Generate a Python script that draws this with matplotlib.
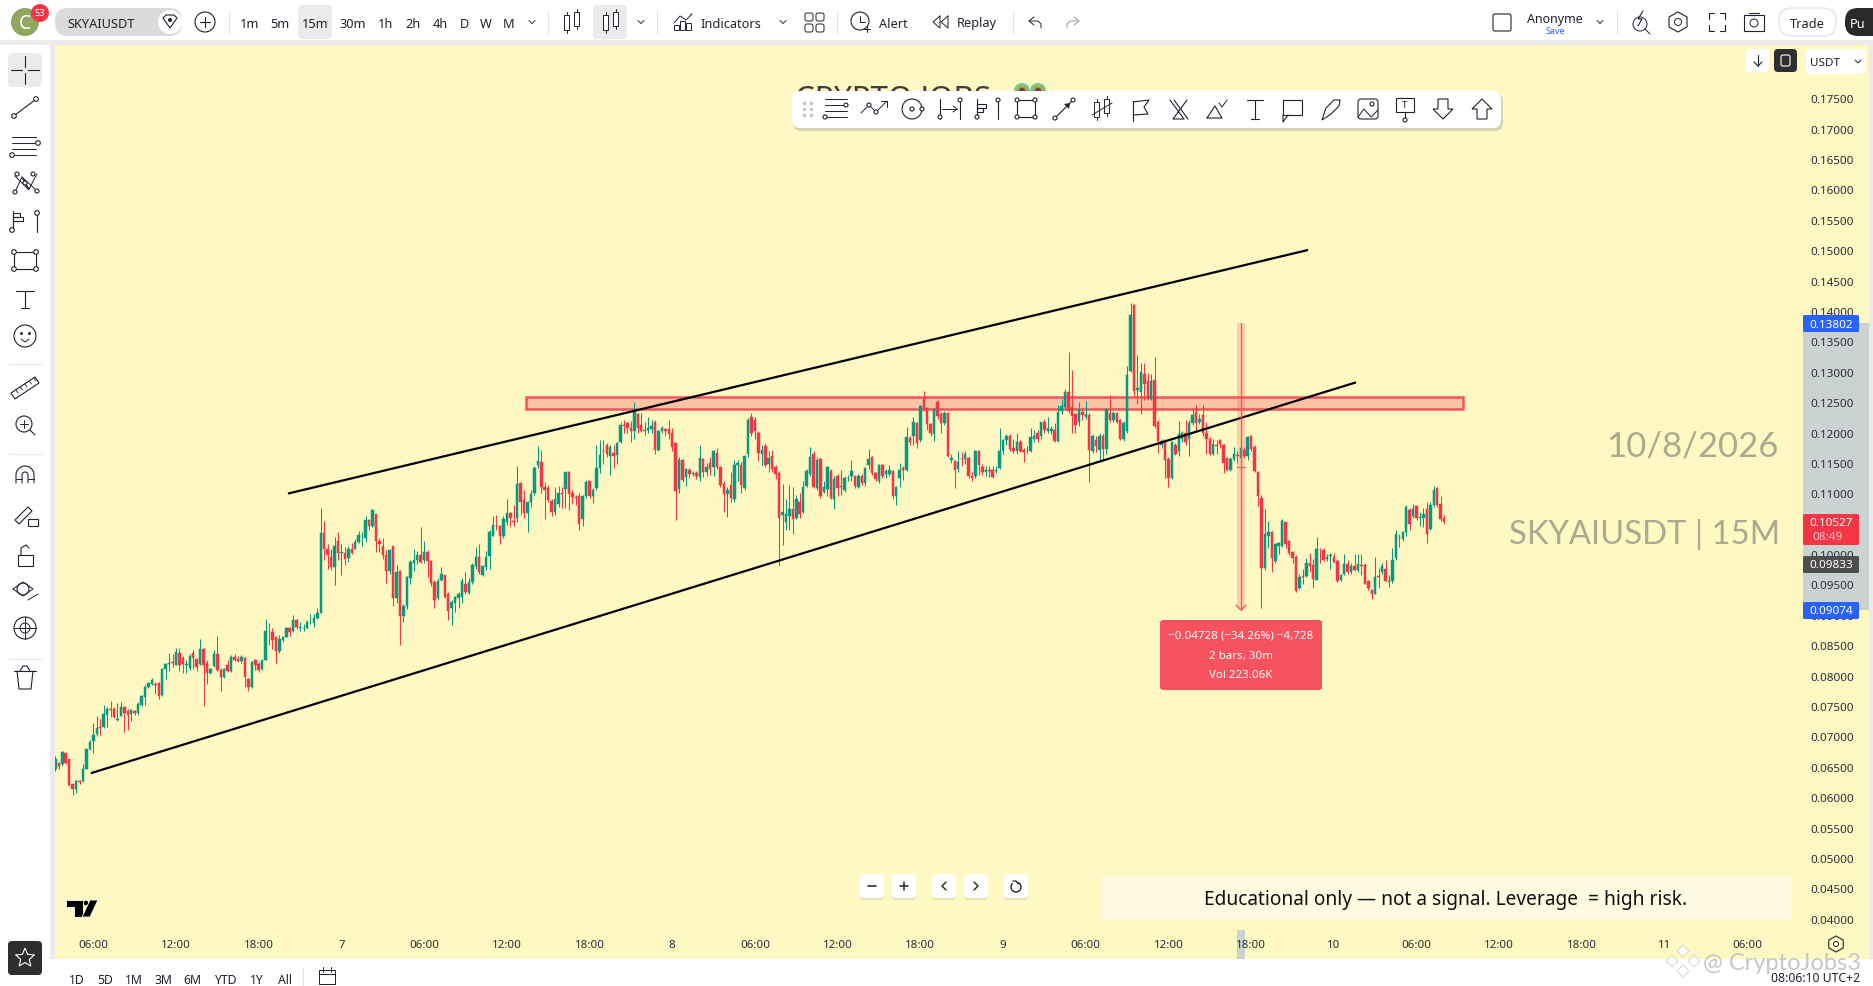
import numpy as np
import matplotlib
matplotlib.use("Agg")
import matplotlib.pyplot as plt
from matplotlib.patches import Circle, FancyBboxPatch, Rectangle, Polygon

plt.rcParams['font.family'] = ['Noto Sans', 'DejaVu Sans']

W, H = 1874, 987

# velas de 15m, precios en diezmilesimas de USDT (662 = 0.0662)
opens = [
    647,656,654,672,663,621,613,626,626,647, 679,692,704,716,715,735,745,745,727,733,
    748,742,737,741,738,752,764,781,786,786, 788,768,811,819,823,817,837,829,818,813,
    838,827,819,843,820,805,816,835,810,798, 817,808,830,828,824,829,794,782,825,819,
    811,826,872,872,863,841,858,864,878,873, 891,879,878,878,886,887,895,903,1035,1008,
    995,979,1021,1002,1001,993,1009,1009,1020,1029, 1027,1056,1046,1066,1021,1014,999,972,1013,928,
    972,898,915,960,986,990,999,990,1004,989, 954,928,958,965,934,911,920,927,929,951,
    936,954,981,996,966,979,997,1029,1047,1046, 1029,1053,1067,1055,1059,1117,1089,1068,1085,1100,
    1147,1151,1111,1108,1087,1070,1082,1101,1107,1135, 1100,1094,1095,1058,1095,1120,1095,1109,1141,1170,
    1179,1162,1166,1163,1184,1212,1215,1207,1202,1230, 1212,1203,1205,1206,1218,1172,1202,1206,1206,1199,
    1183,1107,1154,1127,1139,1132,1133,1127,1156,1135, 1150,1144,1167,1143,1115,1099,1113,1090,1147,1147,
    1109,1165,1226,1220,1199,1164,1178,1149,1162,1143, 1133,1065,1053,1063,1074,1059,1085,1070,1112,1132,
    1164,1108,1156,1102,1107,1137,1091,1129,1112,1106, 1125,1129,1128,1110,1129,1117,1146,1160,1133,1121,
    1147,1132,1132,1137,1096,1125,1142,1139,1191,1195, 1215,1188,1255,1240,1214,1197,1250,1230,1216,1232,
    1154,1153,1140,1157,1156,1158,1129,1128,1169,1144, 1135,1138,1138,1137,1142,1170,1187,1194,1175,1169,
    1184,1172,1171,1170,1189,1200,1195,1218,1203,1203, 1205,1186,1236,1242,1266,1242,1230,1217,1233,1226,
    1229,1170,1188,1172,1194,1173,1232,1220,1232,1220, 1189,1202,1302,1410,1270,1266,1296,1285,1255,1286,
    1217,1180,1188,1157,1125,1180,1170,1190,1200,1189, 1216,1233,1218,1229,1200,1189,1165,1179,1187,1179,
    1158,1139,1156,1163,1158,1172,1162,1195,1176,1135, 1093,977,1029,1036,989,1014,1014,1052,1021,1003,
    995,944,964,964,986,982,958,1007,1006,992, 997,996,989,958,968,984,970,980,973,982,
    982,955,941,935,964,970,975,954,955,993, 1027,1024,1037,1073,1062,1079,1059,1060,1074,1042,
    1080,1108,1082,1060,
]
closes = [
    662,652,674,656,620,613,626,625,647,679, 691,703,713,713,737,745,744,732,729,748,
    738,735,743,739,754,766,781,788,793,785, 767,811,819,820,821,839,817,819,819,833,
    829,815,843,817,804,811,835,810,798,811, 808,831,826,824,831,797,782,823,817,810,
    826,873,871,858,841,861,864,878,872,891, 880,880,879,888,887,895,903,1035,1009,998,
    979,1014,1001,1003,992,1009,1002,1020,1031,1030, 1056,1046,1073,1021,1017,998,972,1007,928,970,
    898,915,962,987,991,999,987,1004,988,952, 924,955,968,929,907,921,929,935,955,938,
    954,982,995,970,980,995,1036,1048,1046,1030, 1058,1068,1059,1052,1115,1085,1067,1086,1099,1142,
    1153,1111,1105,1089,1069,1091,1100,1099,1135,1099, 1094,1093,1049,1096,1119,1095,1105,1141,1163,1169,
    1164,1176,1161,1182,1212,1211,1208,1202,1237,1208, 1202,1204,1207,1211,1172,1203,1207,1203,1197,1177,
    1104,1155,1122,1140,1132,1134,1129,1158,1135,1143, 1140,1169,1143,1113,1099,1105,1092,1147,1150,1113,
    1162,1221,1200,1203,1166,1171,1146,1158,1140,1132, 1060,1069,1066,1074,1058,1090,1066,1110,1137,1160,
    1110,1155,1096,1110,1143,1093,1124,1109,1110,1125, 1126,1137,1112,1129,1117,1142,1157,1133,1124,1147,
    1129,1137,1139,1095,1110,1139,1138,1192,1184,1217, 1182,1243,1238,1214,1199,1238,1227,1216,1232,1162,
    1158,1138,1151,1156,1165,1129,1125,1169,1146,1135, 1139,1137,1127,1138,1169,1188,1195,1173,1169,1185,
    1170,1168,1172,1192,1195,1190,1217,1204,1207,1206, 1186,1233,1244,1266,1236,1228,1213,1239,1229,1230,
    1172,1194,1178,1194,1173,1238,1220,1232,1217,1189, 1216,1295,1393,1269,1273,1299,1280,1255,1285,1210,
    1186,1186,1155,1126,1184,1165,1198,1199,1185,1216, 1229,1216,1222,1200,1189,1165,1181,1178,1181,1150,
    1139,1156,1165,1162,1175,1162,1192,1173,1136,1096, 977,1033,1037,993,1017,1018,1055,1017,1002,994,
    940,963,963,986,981,959,1008,1006,991,996, 998,987,956,966,984,970,980,974,984,980,
    951,944,935,962,963,981,956,955,990,1033, 1026,1036,1078,1050,1074,1059,1061,1066,1033,1081,
    1105,1080,1057,1052,
]
highs = [
    668,658,676,673,663,622,628,628,655,679, 694,722,733,729,751,748,758,749,755,756,
    750,745,745,743,757,768,784,790,796,790, 789,812,821,837,835,846,845,832,826,835,
    842,829,860,846,825,813,842,866,812,813, 825,834,836,832,834,831,796,824,827,822,
    826,893,887,879,863,867,866,880,880,899, 893,888,885,891,902,901,911,1076,1054,1017,
    1008,1028,1036,1017,1012,1013,1018,1025,1038,1037, 1063,1057,1074,1066,1026,1027,1006,1009,1014,982,
    973,918,964,990,1008,1005,1045,1021,1006,991, 958,960,978,966,937,925,931,938,960,970,
    960,985,1011,1017,982,1005,1040,1062,1065,1048, 1063,1090,1069,1081,1145,1119,1105,1088,1106,1145,
    1178,1171,1118,1114,1090,1111,1112,1111,1135,1136, 1106,1097,1100,1097,1122,1121,1108,1180,1188,1188,
    1183,1180,1180,1184,1218,1220,1217,1219,1250,1232, 1232,1218,1226,1220,1220,1205,1210,1208,1220,1207,
    1184,1160,1156,1142,1141,1136,1136,1180,1158,1150, 1160,1172,1175,1145,1120,1110,1135,1155,1155,1151,
    1163,1224,1232,1225,1203,1180,1183,1170,1171,1147, 1136,1115,1090,1114,1110,1098,1100,1120,1140,1176,
    1169,1160,1158,1120,1145,1140,1128,1132,1138,1128, 1130,1155,1130,1132,1132,1144,1173,1162,1135,1149,
    1149,1140,1146,1139,1112,1150,1145,1209,1195,1225, 1218,1245,1268,1242,1216,1240,1254,1234,1236,1234,
    1165,1155,1170,1168,1170,1161,1135,1171,1171,1148, 1145,1145,1145,1145,1207,1190,1197,1197,1190,1200,
    1188,1175,1178,1207,1205,1205,1218,1222,1226,1210, 1215,1245,1255,1271,1332,1303,1232,1250,1240,1252,
    1232,1197,1195,1199,1197,1240,1262,1235,1234,1223, 1219,1309,1413,1412,1327,1315,1315,1298,1296,1324,
    1220,1190,1190,1160,1186,1182,1219,1203,1220,1220, 1240,1246,1230,1245,1217,1192,1190,1188,1189,1181,
    1160,1160,1176,1170,1177,1177,1194,1196,1179,1137, 1098,1075,1055,1038,1019,1020,1057,1053,1023,1005,
    998,967,975,993,1001,992,1028,1010,1010,1000, 1002,1002,991,968,1000,990,985,1000,1000,1000,
    985,957,943,995,977,985,991,965,1010,1040, 1033,1038,1081,1076,1083,1081,1070,1076,1085,1085,
    1112,1111,1095,1064,
]
lows = [
    643,647,651,654,618,604,607,622,625,647, 677,673,700,702,714,716,732,730,725,733,
    707,711,725,735,736,750,752,779,784,770, 762,767,794,807,815,817,808,805,804,809,
    811,808,817,750,786,803,814,808,774,796, 806,806,824,822,820,782,774,780,810,806,
    809,826,850,843,820,838,856,863,865,871, 876,873,873,876,885,880,893,903,990,976,
    974,949,990,966,982,987,1000,1008,1018,1013, 1020,1040,1045,1003,1004,992,953,968,914,920,
    851,889,910,950,972,984,985,985,963,947, 912,925,955,927,891,884,905,912,920,934,
    934,950,975,967,964,973,976,1029,1040,1017, 1026,1048,1045,1047,1052,1065,1060,1037,1077,1098,
    1142,1100,1058,1085,1062,1065,1078,1076,1076,1073, 1082,1080,1039,1046,1093,1093,1084,1105,1134,1149,
    1160,1130,1142,1148,1183,1200,1200,1185,1190,1200, 1201,1196,1200,1200,1165,1170,1200,1195,1190,1170,
    1056,1100,1119,1112,1125,1129,1123,1120,1127,1128, 1130,1128,1140,1111,1069,1061,1086,1086,1120,1100,
    1105,1160,1195,1190,1153,1145,1143,1135,1135,1123, 980,1015,1040,1040,1033,1057,1060,1068,1110,1128,
    1108,1105,1092,1100,1095,1090,1075,1095,1098,1102, 1120,1120,1108,1108,1114,1112,1140,1130,1120,1117,
    1125,1125,1128,1090,1081,1110,1122,1137,1180,1180, 1175,1185,1235,1205,1195,1186,1222,1200,1212,1160,
    1150,1108,1135,1145,1148,1125,1120,1126,1130,1130, 1128,1127,1125,1133,1140,1165,1180,1170,1167,1165,
    1168,1152,1166,1168,1185,1185,1190,1200,1200,1198, 1184,1184,1231,1240,1232,1200,1199,1210,1220,1222,
    1118,1167,1168,1155,1155,1165,1217,1218,1215,1187, 1186,1199,1299,1260,1247,1230,1253,1253,1253,1208,
    1166,1175,1125,1111,1123,1163,1162,1185,1180,1162, 1212,1203,1214,1195,1165,1163,1163,1165,1175,1133,
    1137,1136,1153,1150,1155,1158,1155,1170,1135,1079, 912,974,1010,971,986,1000,1012,1010,998,985,
    938,942,950,962,970,945,957,985,988,988, 976,985,954,956,966,968,968,972,970,965,
    950,941,926,934,945,968,955,946,953,990, 1012,1022,1030,1040,1060,1056,1046,1045,1019,1040,
    1078,1078,1054,1050,
]

price_ticks = [0.04 + 0.005 * k for k in range(28)]
time_labels = ['06:00', '12:00', '18:00', '7', '06:00', '12:00', '18:00', '8', '06:00', '12:00', '18:00',
               '9', '06:00', '12:00', '18:00', '10', '06:00', '12:00', '18:00', '11', '06:00']
first_tick_bar = 11
bars_per_tick = 24

# lineas dibujadas: (barra, precio)
upper_line = ([67.8, 363.2], [0.1100, 0.1500])
lower_line = ([10.6, 377.1], [0.0640, 0.1282])
zone_bars = (136.7, 408.4)
zone_prices = (0.12387, 0.1259)
measure_bars = (342.9, 345.2)
measure_prices = (0.09074, 0.13802)
measure_mid = 0.1143
price_badges = [('0.13802', 324.5, '#2962FF'), ('0.09833', 565.5, '#4E4E4E'), ('0.09074', 611.5, '#2962FF')]

GREEN = '#089981'
RED = '#F23645'
YELLOW = '#FEF8C3'
MEASURE = '#F7525F'
SEL = '#CBD3D2'
INK = '#1E222D'

fig = plt.figure(figsize=(W / 100, H / 100), dpi=100, facecolor='#EBEBEB')

# capa de fondo con la interfaz
ui = fig.add_axes([0, 0, 1, 1], zorder=0)
ui.set_xlim(0, W)
ui.set_ylim(H, 0)
ui.axis('off')

# panel del grafico
ax = fig.add_axes([55 / W, 1 - 960 / H, (1869 - 55) / W, (960 - 46) / H], zorder=1, facecolor=YELLOW)
ax.set_xlim((55 - 55.4) / 3.446, (1869 - 55.4) / 3.446)
ax.set_ylim(0.14 - (960 - 312) / 6077, 0.14 + (312 - 46) / 6077)
ax.set_axisbelow(False)
for s in ax.spines.values():
    s.set_visible(False)

# capa superior
top = fig.add_axes([0, 0, 1, 1], zorder=2)
top.set_xlim(0, W)
top.set_ylim(H, 0)
top.axis('off')
top.patch.set_alpha(0)


def rect(a, x0, y0, x1, y1, color, z=1, **kw):
    a.add_patch(Rectangle((x0, y0), x1 - x0, y1 - y0, facecolor=color, edgecolor='none', zorder=z, **kw))


def rbox(a, x0, y0, x1, y1, color, r=4, z=2, ec='none', lw=0):
    a.add_patch(FancyBboxPatch((x0 + r, y0 + r), x1 - x0 - 2 * r, y1 - y0 - 2 * r,
                               boxstyle='round,pad=%g,rounding_size=%g' % (r, r),
                               facecolor=color, edgecolor=ec, linewidth=lw, zorder=z))


def ln(a, xs, ys, color=INK, lw=0.8, z=6):
    a.plot(xs, ys, color=color, lw=lw, zorder=z, solid_capstyle='round', solid_joinstyle='round')


def ring(a, x, y, r, color=INK, lw=0.8, z=6, fc='white'):
    a.add_patch(Circle((x, y), r, facecolor=fc, edgecolor=color, linewidth=lw, zorder=z))


def box(a, x0, y0, x1, y1, color=INK, lw=0.8, z=6, fc='none'):
    a.add_patch(Rectangle((x0, y0), x1 - x0, y1 - y0, facecolor=fc, edgecolor=color, linewidth=lw, zorder=z))


def label(a, x, y, s, size=9.2, color=INK, ha='center', weight='normal', z=7):
    a.text(x, y + 1, s, fontsize=size, color=color, ha=ha, va='center', fontweight=weight, zorder=z)


def chevron(a, x, y, color='#444444'):
    ln(a, [x - 3, x, x + 3], [y - 1.5, y + 1.5, y - 1.5], color=color, lw=0.8)


def candle_icon(a, x, y):
    for dx, h0, h1 in ((-5, -7, 8), (5, -10, 4)):
        ln(a, [x + dx, x + dx], [y + h0 - 3, y + h1 + 3], lw=0.7)
        box(a, x + dx - 2.5, y + h0, x + dx + 2.5, y + h1, fc='white', lw=0.7)


# barras blancas
rect(ui, 0, 0, W, 41, 'white')
rect(ui, 0, 46, 50, H, 'white')
rect(ui, 50, 960, W, H, 'white')

# ---- barra superior
ui.add_patch(Circle((25, 23), 14, facecolor='#8FA85F', zorder=3))
label(ui, 25, 23, 'C', size=14, color='white', weight='bold')
ui.add_patch(Circle((40, 14), 9, facecolor='#F23645', zorder=6))
label(ui, 40, 13, '53', size=6.5, color='white', weight='bold')
rbox(ui, 55, 9, 182, 37, '#DBDBDB', r=13)
label(ui, 67, 23, 'SKYAIUSDT', size=9.2, ha='left', weight='bold')
ui.add_patch(Circle((170, 23), 12, facecolor='white', zorder=4))
ui.add_patch(Polygon([[163, 19], [166, 16], [174, 16], [177, 19], [170, 29]], closed=True, facecolor='white', edgecolor=INK, lw=0.8, zorder=6))
ui.add_patch(Circle((170, 21), 2, facecolor=INK, zorder=7))
ring(ui, 205, 23, 10)
ln(ui, [200, 210], [23, 23])
ln(ui, [205, 205], [18, 28])
ln(ui, [229, 229], [12, 34], color='#E0E0E0')
rbox(ui, 298, 6, 332, 40, '#EBEBEB', r=5)
for xp, s in zip([250, 280, 315, 353, 386, 413, 440, 464, 486, 509],
                 ['1m', '5m', '15m', '30m', '1h', '2h', '4h', 'D', 'W', 'M']):
    label(ui, xp, 23, s)
chevron(ui, 532, 23)
ln(ui, [548, 548], [12, 34], color='#E0E0E0')
candle_icon(ui, 572, 23)
rbox(ui, 593, 6, 627, 40, '#EBEBEB', r=5)
candle_icon(ui, 611, 23)
chevron(ui, 641, 23)
ln(ui, [657, 657], [12, 34], color='#E0E0E0')
ln(ui, [674, 680, 686, 692, 691], [24, 17, 21, 15, 15], lw=0.7)
for xb, hb in ((674, 5), (680, 9), (686, 7)):
    box(ui, xb, 31 - hb, xb + 5, 31, lw=0.7)
label(ui, 700, 23, 'Indicators', ha='left')
chevron(ui, 783, 23)
for gx in (809, 820):
    for gy in (18, 29):
        rbox(ui, gx - 4, gy - 4, gx + 4, gy + 4, 'white', r=2, ec=INK, lw=0.7, z=6)
ln(ui, [837, 837], [12, 34], color='#E0E0E0')
ring(ui, 860, 22, 9)
ln(ui, [860, 860, 865], [17, 23, 23], lw=0.7)
ln(ui, [864, 870], [30, 30], lw=0.7)
ln(ui, [867, 867], [27, 33], lw=0.7)
label(ui, 879, 23, 'Alert', ha='left')
ln(ui, [940, 933, 940, 940], [17, 23, 29, 17], lw=0.7)
ln(ui, [948, 941, 948, 948], [17, 23, 29, 17], lw=0.7)
label(ui, 957, 23, 'Replay', ha='left')
ln(ui, [1013, 1013], [12, 34], color='#E0E0E0')
ln(ui, [1034, 1029, 1034], [18, 22, 26], lw=0.7)
ln(ui, [1029, 1038, 1041, 1041], [22, 22, 25, 29], lw=0.7)
ln(ui, [1074, 1079, 1074], [18, 22, 26], color='#9A9A9A', lw=0.7)
ln(ui, [1079, 1070, 1067, 1067], [22, 22, 25, 29], color='#9A9A9A', lw=0.7)
rbox(ui, 1493, 15, 1511, 32, 'white', r=2, ec=INK, lw=0.8, z=6)
label(ui, 1555, 18, 'Anonyme', size=9)
label(ui, 1555, 30, 'Save', size=6.5, color='#2962FF')
chevron(ui, 1600, 23)
ln(ui, [1617, 1617], [12, 34], color='#E0E0E0')
ring(ui, 1640, 25, 7, lw=0.7)
ln(ui, [1645, 1650], [30, 35], lw=0.7)
ln(ui, [1643, 1638, 1642, 1638], [12, 20, 20, 27], lw=0.8)
hex_x = np.array([0, 9, 9, 0, -9, -9])
hex_y = np.array([-10, -5, 5, 10, 5, -5])
ui.add_patch(Polygon(np.c_[1678 + hex_x, 23 + hex_y], closed=True, facecolor='white', edgecolor=INK, lw=0.8, zorder=6))
ring(ui, 1678, 23, 3.5, lw=0.7)
for sx, sy in ((-1, -1), (1, -1), (-1, 1), (1, 1)):
    ln(ui, [1717 + sx * 8, 1717 + sx * 8, 1717 + sx * 3], [23 + sy * 3, 23 + sy * 9, 23 + sy * 9], lw=0.8)
box(ui, 1744, 16, 1764, 32, lw=0.8)
ring(ui, 1754, 24, 4, lw=0.7)
ln(ui, [1749, 1759], [14, 14], lw=0.8)
rbox(ui, 1779, 9, 1836, 37, 'white', r=13, ec='#E3E3E3', lw=0.9)
label(ui, 1807, 23, 'Trade')
rbox(ui, 1845, 9, 1890, 37, '#2A2A2A', r=13)
label(ui, 1850, 23, 'Pu', color='white', ha='left')

# ---- barra izquierda
tx = 25
rbox(ui, 8, 54, 42, 88, '#EBEBEB', r=5)
ln(ui, [tx - 14, tx - 3], [71, 71])
ln(ui, [tx + 3, tx + 14], [71, 71])
ln(ui, [tx, tx], [57, 68])
ln(ui, [tx, tx], [74, 85])
ln(ui, [tx - 10, tx + 10], [116, 101])
ring(ui, tx - 11, 117, 2.3)
ring(ui, tx + 11, 100, 2.3)
for yy in (138, 144, 150, 156):
    ln(ui, [tx - 13, tx + 11], [yy, yy], lw=0.7)
ring(ui, tx + 13, 144, 2.3)
ring(ui, tx - 13, 156, 2.3)
ln(ui, [tx - 10, tx - 3, tx + 4, tx + 12], [193, 178, 190, 175], lw=0.7)
ln(ui, [tx - 10, tx + 4, tx - 3, tx + 12], [177, 191, 178, 192], lw=0.7)
for px, py in ((tx - 10, 193), (tx - 8, 175), (tx, 184), (tx + 8, 175), (tx + 12, 192)):
    ring(ui, px, py, 2)
ln(ui, [tx - 12, tx - 12], [212, 232], lw=0.8)
box(ui, tx - 12, 214, tx - 5, 218)
box(ui, tx - 12, 218, tx - 2, 222)
ring(ui, tx - 13, 231, 2.3)
ln(ui, [tx + 12, tx + 12], [216, 233], lw=0.8)
ring(ui, tx + 12, 214, 2.3)
box(ui, tx - 11, 253, tx + 11, 270)
for px, py in ((tx - 11, 253), (tx + 11, 253), (tx - 11, 270), (tx + 11, 270)):
    ring(ui, px, py, 2.3)
ln(ui, [tx - 9, tx + 9], [292, 292])
ln(ui, [tx, tx], [292, 309])
ln(ui, [tx - 4, tx + 4], [309, 309])
ring(ui, tx, 337, 11)
ui.plot([tx - 4, tx + 4], [334, 334], 'o', color=INK, ms=1.2, zorder=7)
ln(ui, [tx - 4, tx, tx + 4], [340, 343, 340], lw=0.7)
ln(ui, [8, 43], [365, 365], color='#E8E8E8')
ui.add_patch(Polygon([[tx - 14, 394], [tx + 10, 378], [tx + 14, 384], [tx - 10, 400]], closed=True, facecolor='white', edgecolor=INK, lw=0.8, zorder=6))
for k in range(5):
    ln(ui, [tx - 9 + 4.5 * k, tx - 7 + 4.5 * k], [391 - 3 * k, 394 - 3 * k], lw=0.6)
ring(ui, tx - 1, 425, 8)
ln(ui, [tx - 5, tx + 3], [425, 425], lw=0.7)
ln(ui, [tx - 1, tx - 1], [421, 429], lw=0.7)
ln(ui, [tx + 5, tx + 10], [431, 436])
ln(ui, [8, 43], [455, 455], color='#E8E8E8')
# iman
th = np.linspace(np.pi, 2 * np.pi, 20)
ln(ui, np.r_[tx - 9, tx + 9 * np.cos(th), tx + 9], np.r_[484, 476 + 9 * np.sin(th), 484])
ln(ui, np.r_[tx - 3, tx + 3 * np.cos(th), tx + 3], np.r_[484, 476 + 3 * np.sin(th), 484])
ln(ui, [tx - 9, tx - 3], [480, 480], lw=0.7)
ln(ui, [tx + 3, tx + 9], [480, 480], lw=0.7)
ui.add_patch(Polygon([[tx - 10, 521], [tx + 3, 508], [tx + 7, 512], [tx - 6, 525]], closed=True, facecolor='white', edgecolor=INK, lw=0.8, zorder=6))
box(ui, tx + 3, 520, tx + 13, 527)
box(ui, tx - 7, 556, tx + 8, 567)
ln(ui, [tx - 4, tx - 4, tx + 1, tx + 4], [556, 549, 546, 549])
ring(ui, tx - 2, 590, 6)
ln(ui, [tx - 12, tx - 2, tx + 8, tx - 2, tx - 12], [590, 583, 590, 597, 590], lw=0.7)
ln(ui, [tx + 3, tx + 13], [601, 595], lw=0.7)
ring(ui, tx, 629, 11)
ui.add_patch(Circle((tx, 629), 5, facecolor='none', edgecolor=INK, lw=0.7, zorder=7))
ln(ui, [tx - 11, tx + 11], [629, 629], lw=0.7)
ln(ui, [tx, tx], [618, 640], lw=0.7)
ln(ui, [8, 43], [660, 660], color='#E8E8E8')
ln(ui, [tx - 11, tx + 11], [672, 672])
ln(ui, [tx - 8, tx - 6, tx + 6, tx + 8], [672, 690, 690, 672])
ln(ui, [tx - 5, tx - 2, tx + 2, tx + 5], [672, 667, 667, 672])
rbox(ui, 8, 942, 42, 976, '#2E2E2E', r=4)
star = [(25 + 10 * np.sin(k * 2 * np.pi / 10) * (1 if k % 2 == 0 else 0.45),
         959 - 10 * np.cos(k * 2 * np.pi / 10) * (1 if k % 2 == 0 else 0.45)) for k in range(10)]
ui.add_patch(Polygon(star, closed=True, facecolor='none', edgecolor='white', lw=0.8, zorder=6))

# ---- barra inferior
for xp, s in zip([77, 105, 134, 163, 192, 225, 257, 285], ['1D', '5D', '1M', '3M', '6M', 'YTD', '1Y', 'All']):
    label(ui, xp, 979, s, size=8.8)
ln(ui, [303, 303], [968, 987], color='#E0E0E0')
box(ui, 319, 971, 335, 985, lw=0.7)
ln(ui, [319, 335], [975, 975], lw=0.7)
ln(ui, [323, 323], [968, 973], lw=0.7)
ln(ui, [331, 331], [968, 973], lw=0.7)

# ---- velas
o = np.array(opens) / 10000
c = np.array(closes) / 10000
h = np.array(highs) / 10000
l = np.array(lows) / 10000
idx = np.arange(len(o))
colors = np.where(c >= o, GREEN, RED)

# zona de resistencia
ax.add_patch(Rectangle((zone_bars[0], zone_prices[0]), zone_bars[1] - zone_bars[0], zone_prices[1] - zone_prices[0],
                       facecolor='#FBC4A2', edgecolor=MEASURE, linewidth=1.8, zorder=2))
ax.vlines(idx, l, h, colors=colors, linewidth=0.75, zorder=3)
ax.bar(idx, np.abs(c - o), bottom=np.minimum(o, c), width=0.72, color=colors, edgecolor=colors, linewidth=0.35, zorder=3)

# lineas de tendencia
ax.plot(upper_line[0], upper_line[1], color='black', lw=1.6, zorder=4)
ax.plot(lower_line[0], lower_line[1], color='black', lw=1.6, zorder=4)

# herramienta de medida
ax.add_patch(Rectangle((measure_bars[0], measure_prices[0]), measure_bars[1] - measure_bars[0],
                       measure_prices[1] - measure_prices[0], facecolor=MEASURE, alpha=0.25, edgecolor='none', zorder=5))
mid = (measure_bars[0] + measure_bars[1]) / 2
ax.plot([mid, mid], measure_prices, color=MEASURE, lw=0.9, zorder=5)
ax.plot(measure_bars, [measure_mid, measure_mid], color=MEASURE, lw=0.8, zorder=5)
ln(top, [1236, 1241, 1246], [606, 611, 606], color=MEASURE, lw=0.9)

# franjas de seleccion en las escalas (detras de las etiquetas)
ax.add_patch(Rectangle((ax.get_xlim()[0] + (1803 - 55) / 3.446, measure_prices[0]), (1869 - 1803) / 3.446,
                       measure_prices[1] - measure_prices[0], facecolor=SEL, edgecolor='none', zorder=1))
ymin = ax.get_ylim()[0]
ax.add_patch(Rectangle((measure_bars[0], ymin), measure_bars[1] - measure_bars[0], 29 / 6077,
                       facecolor=SEL, edgecolor='none', zorder=1))

# ejes
ax.set_yticks(price_ticks)
ax.set_yticklabels(['%.5f' % p for p in price_ticks])
ax.yaxis.tick_right()
ax.tick_params(axis='y', length=0, pad=-42, labelsize=8.4, labelcolor='#2A2E39')
for t in ax.get_yticklabels():
    t.set_ha('left')
    t.set_va('center_baseline')
ax.set_xticks([first_tick_bar + bars_per_tick * k for k in range(len(time_labels))])
ax.set_xticklabels(time_labels)
ax.tick_params(axis='x', length=0, pad=-14.2, labelsize=8.3, labelcolor='#2A2E39')

# textos del panel
top.text(1779, 447, '10/8/2026', fontsize=25, color='#ADA98F', ha='right', va='center', family='Lato')
top.text(1780, 534, 'SKYAIUSDT | 15M', fontsize=23.6, color='#ADA98F', ha='right', va='center', family='Lato')

# insignias de precio
for s, yc, col in price_badges:
    rbox(top, 1803, yc - 8.5, 1859, yc + 8.5, col, r=1.5, z=8)
    label(top, 1831, yc - 0.5, s, size=8.4, color='white', z=9)
rbox(top, 1803, 515, 1859, 546, '#F23645', r=1.5, z=8)
label(top, 1831, 523, '0.10527', size=8.4, color='white', z=9)
label(top, 1828, 537, '08:49', size=8.4, color='#FFC0C6', z=9)

# etiqueta de medida
rbox(top, 1160, 621, 1322, 691, MEASURE, r=3, z=8)
label(top, 1241, 635.5, '\u22120.04728 (\u221234.26%) \u22124,728', size=8.3, color='white', z=9)
label(top, 1241, 655.5, '2 bars, 30m', size=8.3, color='white', z=9)
label(top, 1241, 675, 'Vol 223.06K', size=8.3, color='white', z=9)

# titulo tapado por la barra flotante
top.text(795, 100, 'CRYPTO JOBS', fontsize=22.5, color='#3E3E3E', ha='left', va='center', fontweight='bold', zorder=2)
for ex in (1022, 1038):
    top.add_patch(Circle((ex, 92), 8, facecolor='#6FC98A', zorder=2))
    top.add_patch(Circle((ex, 92), 5, facecolor='#D98B2B', zorder=2))
    top.add_patch(Circle((ex, 92), 3, facecolor='#4A4A55', zorder=2))

# barra flotante de dibujo
rbox(top, 793, 94, 1503, 132, '#D8D5B4', r=8, z=3)
rbox(top, 792, 92, 1501, 129, 'white', r=8, z=4)
for gy in (104, 110, 116):
    top.plot([804, 811], [gy, gy], 's', color='#C8C8C8', ms=1.6, zorder=6)
for yy in (100, 106, 112, 118):
    ln(top, [825, 847], [yy, yy], lw=0.7)
ring(top, 846, 106, 2)
ring(top, 825, 118, 2)
ln(top, [861, 869, 876, 887], [114, 106, 113, 102], lw=0.7)
ln(top, [881, 887, 887], [102, 102, 108], lw=0.7)
ring(top, 869, 106, 2)
ring(top, 876, 113, 2)
ring(top, 912, 110, 10)
ring(top, 912, 110, 2)
ring(top, 922, 110, 2)
ln(top, [940, 940], [100, 120])
ln(top, [942, 957], [110, 110], lw=0.7)
ln(top, [953, 957, 953], [107, 110, 113], lw=0.7)
ln(top, [960, 960], [102, 120])
ring(top, 940, 118, 2)
ring(top, 960, 101, 2)
ln(top, [977, 977], [100, 118])
box(top, 977, 105, 986, 109)
box(top, 977, 109, 983, 113)
ring(top, 977, 118, 2)
ln(top, [998, 998], [103, 120])
ring(top, 998, 101, 2)
box(top, 1017, 101, 1035, 118)
for px, py in ((1017, 101), (1035, 101), (1017, 118), (1035, 118)):
    ring(top, px, py, 2)
ln(top, [1056, 1072], [118, 102])
ring(top, 1055, 119, 2)
ring(top, 1073, 101, 2)
top.add_patch(Polygon([[1064, 105], [1070, 104], [1069, 110]], closed=True, facecolor=INK, zorder=6))
candle_icon(top, 1102, 110)
ln(top, [1092, 1112], [116, 104], lw=0.7)
ln(top, [1133, 1133], [102, 122])
ln(top, [1133, 1149, 1144, 1148, 1133], [103, 101, 108, 115, 116])
ln(top, [1170, 1184, 1173, 1187], [101, 120, 120, 101])
ln(top, [1174, 1188], [101, 120])
ln(top, [1207, 1215, 1222, 1207], [119, 107, 119, 119])
ln(top, [1219, 1222, 1227], [104, 108, 101], lw=0.7)
ln(top, [1247, 1263], [101, 101])
ln(top, [1255, 1255], [101, 120])
ln(top, [1251, 1259], [120, 120])
box(top, 1283, 101, 1302, 116)
ln(top, [1283, 1283, 1288], [116, 123, 116])
top.add_patch(Polygon([[1322, 121], [1326, 109], [1334, 101], [1340, 101], [1339, 107], [1331, 115]], closed=True, facecolor='white', edgecolor=INK, lw=0.8, zorder=6))
rbox(top, 1358, 100, 1378, 120, 'white', r=3, ec=INK, lw=0.8, z=6)
ln(top, [1358, 1364, 1371, 1378], [118, 110, 118, 111], lw=0.7)
ring(top, 1372, 105, 2)
box(top, 1396, 99, 1414, 113)
label(top, 1405, 105, 'T', size=7)
ln(top, [1405, 1405], [113, 119])
ring(top, 1405, 121, 2)
top.add_patch(Polygon([[1438, 100], [1448, 100], [1448, 110], [1453, 110], [1443, 120], [1433, 110], [1438, 110]], closed=True, facecolor='white', edgecolor=INK, lw=0.8, zorder=6))
top.add_patch(Polygon([[1477, 120], [1487, 120], [1487, 110], [1492, 110], [1482, 100], [1472, 110], [1477, 110]], closed=True, facecolor='white', edgecolor=INK, lw=0.8, zorder=6))

# botones de arriba a la derecha
rbox(top, 1746, 50, 1769, 73, 'white', r=3, z=6)
ln(top, [1758, 1758], [56, 67], z=7)
ln(top, [1754, 1758, 1762], [63, 67, 63], z=7)
rbox(top, 1774, 50, 1797, 73, '#2E2E2E', r=4, z=6)
rbox(top, 1781, 56, 1790, 67, '#2E2E2E', r=2, ec='white', lw=0.8, z=7)
rbox(top, 1806, 50, 1866, 75, 'white', r=3, z=6)
label(top, 1810, 62, 'USDT', size=8.4, ha='left', z=7)
ln(top, [1855, 1858, 1861], [61, 64, 61], color='#444444', z=7)

# logo TradingView
top.add_patch(Polygon([[66, 901], [83, 901], [83, 918], [74, 918], [74, 908], [66, 908]], closed=True, facecolor='black', edgecolor='white', lw=0.6, zorder=6))
top.add_patch(Circle((86, 904), 2.6, facecolor='black', edgecolor='white', lw=0.4, zorder=6))
top.add_patch(Polygon([[90, 901], [98, 901], [90, 918], [82, 918]], closed=True, facecolor='black', edgecolor='white', lw=0.6, zorder=6))

# botones de zoom y navegacion
for bx in (872, 904, 944, 976, 1016):
    rbox(top, bx - 12, 876, bx + 12, 901, '#E6E2B8', r=4, z=3)
    rbox(top, bx - 12, 875, bx + 12, 899, 'white', r=4, z=4)
ln(top, [868, 876], [887, 887], lw=1.1)
ln(top, [900, 908], [887, 887], lw=1.1)
ln(top, [904, 904], [883, 891], lw=1.1)
ln(top, [946, 942, 946], [883, 887, 891], lw=1.0)
ln(top, [974, 978, 974], [883, 887, 891], lw=1.0)
th = np.linspace(-1.1, 3.9, 30)
ln(top, 1016 + 5 * np.cos(th), 888 + 5 * np.sin(th), lw=1.0)
ln(top, [1013, 1016, 1018], [882, 882, 885], lw=0.9)

# aviso
rect(top, 1101, 877, 1792, 921, '#FFFBE0', z=3)
label(top, 1446, 899, 'Educational only \u2014 not a signal. Leverage  = high risk.', size=13.8, color='#111111', z=5)

# rueda de ajustes de la escala
top.add_patch(Polygon(np.c_[1836 + hex_x * 0.8, 945 + hex_y * 0.8], closed=True, facecolor='none', edgecolor=INK, lw=0.8, zorder=6))
ring(top, 1836, 945, 2.5, fc='none', lw=0.7)

# marca de agua y hora
label(top, 1860, 978, '08:06:10 UTC+2', size=8.8, ha='right', z=7)
top.text(1703, 963, '@ CryptoJobs3', fontsize=17, color='#BDBDBD', alpha=0.85, ha='left', va='center', family='Lato', zorder=8)
for dx, dy in ((0, -10), (-11, 0), (11, 0), (0, 10)):
    top.add_patch(Polygon([[1683 + dx, 962 + dy - 6], [1683 + dx + 6, 962 + dy], [1683 + dx, 962 + dy + 6], [1683 + dx - 6, 962 + dy]],
                          closed=True, facecolor='white', edgecolor='#D0D0D0', lw=0.8, alpha=0.8, zorder=8))

fig.savefig('out.png', dpi=100, facecolor=fig.get_facecolor())
